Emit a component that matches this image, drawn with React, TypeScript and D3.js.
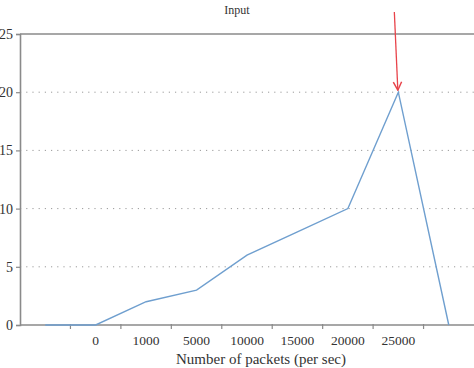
import React, { useEffect, useRef } from 'react';
import * as d3 from 'd3';

// categories along the x axis (first and last bands have no label)
const categories = ['a', '0', '1000', '5000', '10000', '15000', '20000', '25000', 'b'];
const tickLabels = ['', '0', '1000', '5000', '10000', '15000', '20000', '25000', ''];
const values = [0, 0, 2, 3, 6, 8, 10, 20, 0];
const yTicks = [0, 5, 10, 15, 20, 25];
const arrowTarget = '25000';

const W = 474;
const H = 368;

const App = () => {
  const svgRef = useRef<SVGSVGElement>(null);

  useEffect(() => {
    const svg = d3.select(svgRef.current);
    svg.selectAll('*').remove();

    const margin = { top: 34, right: 0, bottom: 43, left: 20 };
    const innerW = W - margin.left - margin.right;
    const innerH = H - margin.top - margin.bottom;
    const font = '"Liberation Serif", "DejaVu Serif", serif';

    const x = d3.scaleBand<string>().domain(categories).range([0, innerW]).padding(0);
    const y = d3.scaleLinear().domain([0, 25]).range([innerH, 0]);

    const g = svg.append('g').attr('transform', `translate(${margin.left},${margin.top})`);

    // dotted grid lines
    g.selectAll('.grid')
      .data(yTicks.filter(t => t > 0 && t < 25))
      .enter()
      .append('line')
      .attr('x1', 0)
      .attr('x2', innerW)
      .attr('y1', d => y(d))
      .attr('y2', d => y(d))
      .attr('stroke', '#9a9a9a')
      .attr('stroke-width', 1)
      .attr('stroke-dasharray', '1.2,5');

    // top border at 25
    g.append('line')
      .attr('x1', 0).attr('x2', innerW)
      .attr('y1', y(25)).attr('y2', y(25))
      .attr('stroke', '#8a8a8a').attr('stroke-width', 1.6);

    // y axis
    const yAxis = d3.axisLeft(y).tickValues(yTicks).tickSize(4).tickPadding(3);
    const yg = g.append('g').call(yAxis);
    yg.select('.domain').attr('stroke', '#8a8a8a').attr('stroke-width', 1.6);
    yg.selectAll('.tick line').attr('stroke', '#8a8a8a').attr('stroke-width', 1.2);
    yg.selectAll('.tick text')
      .attr('font-family', font).attr('font-size', 14).attr('fill', '#333');

    // x axis: ticks at band boundaries, labels at band centres
    const xg = g.append('g').attr('transform', `translate(0,${innerH})`);
    xg.append('line')
      .attr('x1', 0).attr('x2', innerW)
      .attr('stroke', '#8a8a8a').attr('stroke-width', 1.6);
    xg.selectAll('.xtick')
      .data(categories.slice(1))
      .enter()
      .append('line')
      .attr('x1', d => x(d)!)
      .attr('x2', d => x(d)!)
      .attr('y1', -1)
      .attr('y2', 4)
      .attr('stroke', '#8a8a8a')
      .attr('stroke-width', 1.2);
    xg.selectAll('.xlabel')
      .data(categories)
      .enter()
      .append('text')
      .attr('x', d => x(d)! + x.bandwidth() / 2)
      .attr('y', 20)
      .attr('text-anchor', 'middle')
      .attr('font-family', font)
      .attr('font-size', 13.5)
      .attr('fill', '#333')
      .text((d, i) => tickLabels[i]);

    // line
    const line = d3.line<number>()
      .x((d, i) => x(categories[i])! + x.bandwidth() / 2)
      .y(d => y(d));
    g.append('path')
      .datum(values)
      .attr('fill', 'none')
      .attr('stroke', '#6f9fcf')
      .attr('stroke-width', 1.4)
      .attr('d', line);

    // red arrow pointing at the peak
    const ax = x(arrowTarget)! + x.bandwidth() / 2;
    const ay = y(values[categories.indexOf(arrowTarget)]);
    svg.append('defs').append('marker')
      .attr('id', 'arrowhead')
      .attr('viewBox', '0 0 10 10')
      .attr('refX', 9).attr('refY', 5)
      .attr('markerWidth', 8).attr('markerHeight', 8)
      .attr('orient', 'auto')
      .append('path')
      .attr('d', 'M1,1 L9,5 L1,9')
      .attr('fill', 'none')
      .attr('stroke', '#e8434a')
      .attr('stroke-width', 1.4);
    g.append('line')
      .attr('x1', ax - 4).attr('y1', 12 - margin.top)
      .attr('x2', ax - 0.5).attr('y2', ay - 2)
      .attr('stroke', '#e8434a')
      .attr('stroke-width', 1.3)
      .attr('marker-end', 'url(#arrowhead)');

    // title
    svg.append('text')
      .attr('x', 237).attr('y', 14)
      .attr('text-anchor', 'middle')
      .attr('font-family', font).attr('font-size', 12).attr('fill', '#333')
      .text('Input');

    // x axis title
    svg.append('text')
      .attr('x', 261).attr('y', 364)
      .attr('text-anchor', 'middle')
      .attr('font-family', font).attr('font-size', 15).attr('fill', '#333')
      .text('Number of packets (per sec)');
  }, []);

  return (
    <svg
      ref={svgRef}
      width={W}
      height={H}
      style={{ position: 'absolute', left: 0, top: 0, background: '#fff' }}
    />
  );
};

export default App;
